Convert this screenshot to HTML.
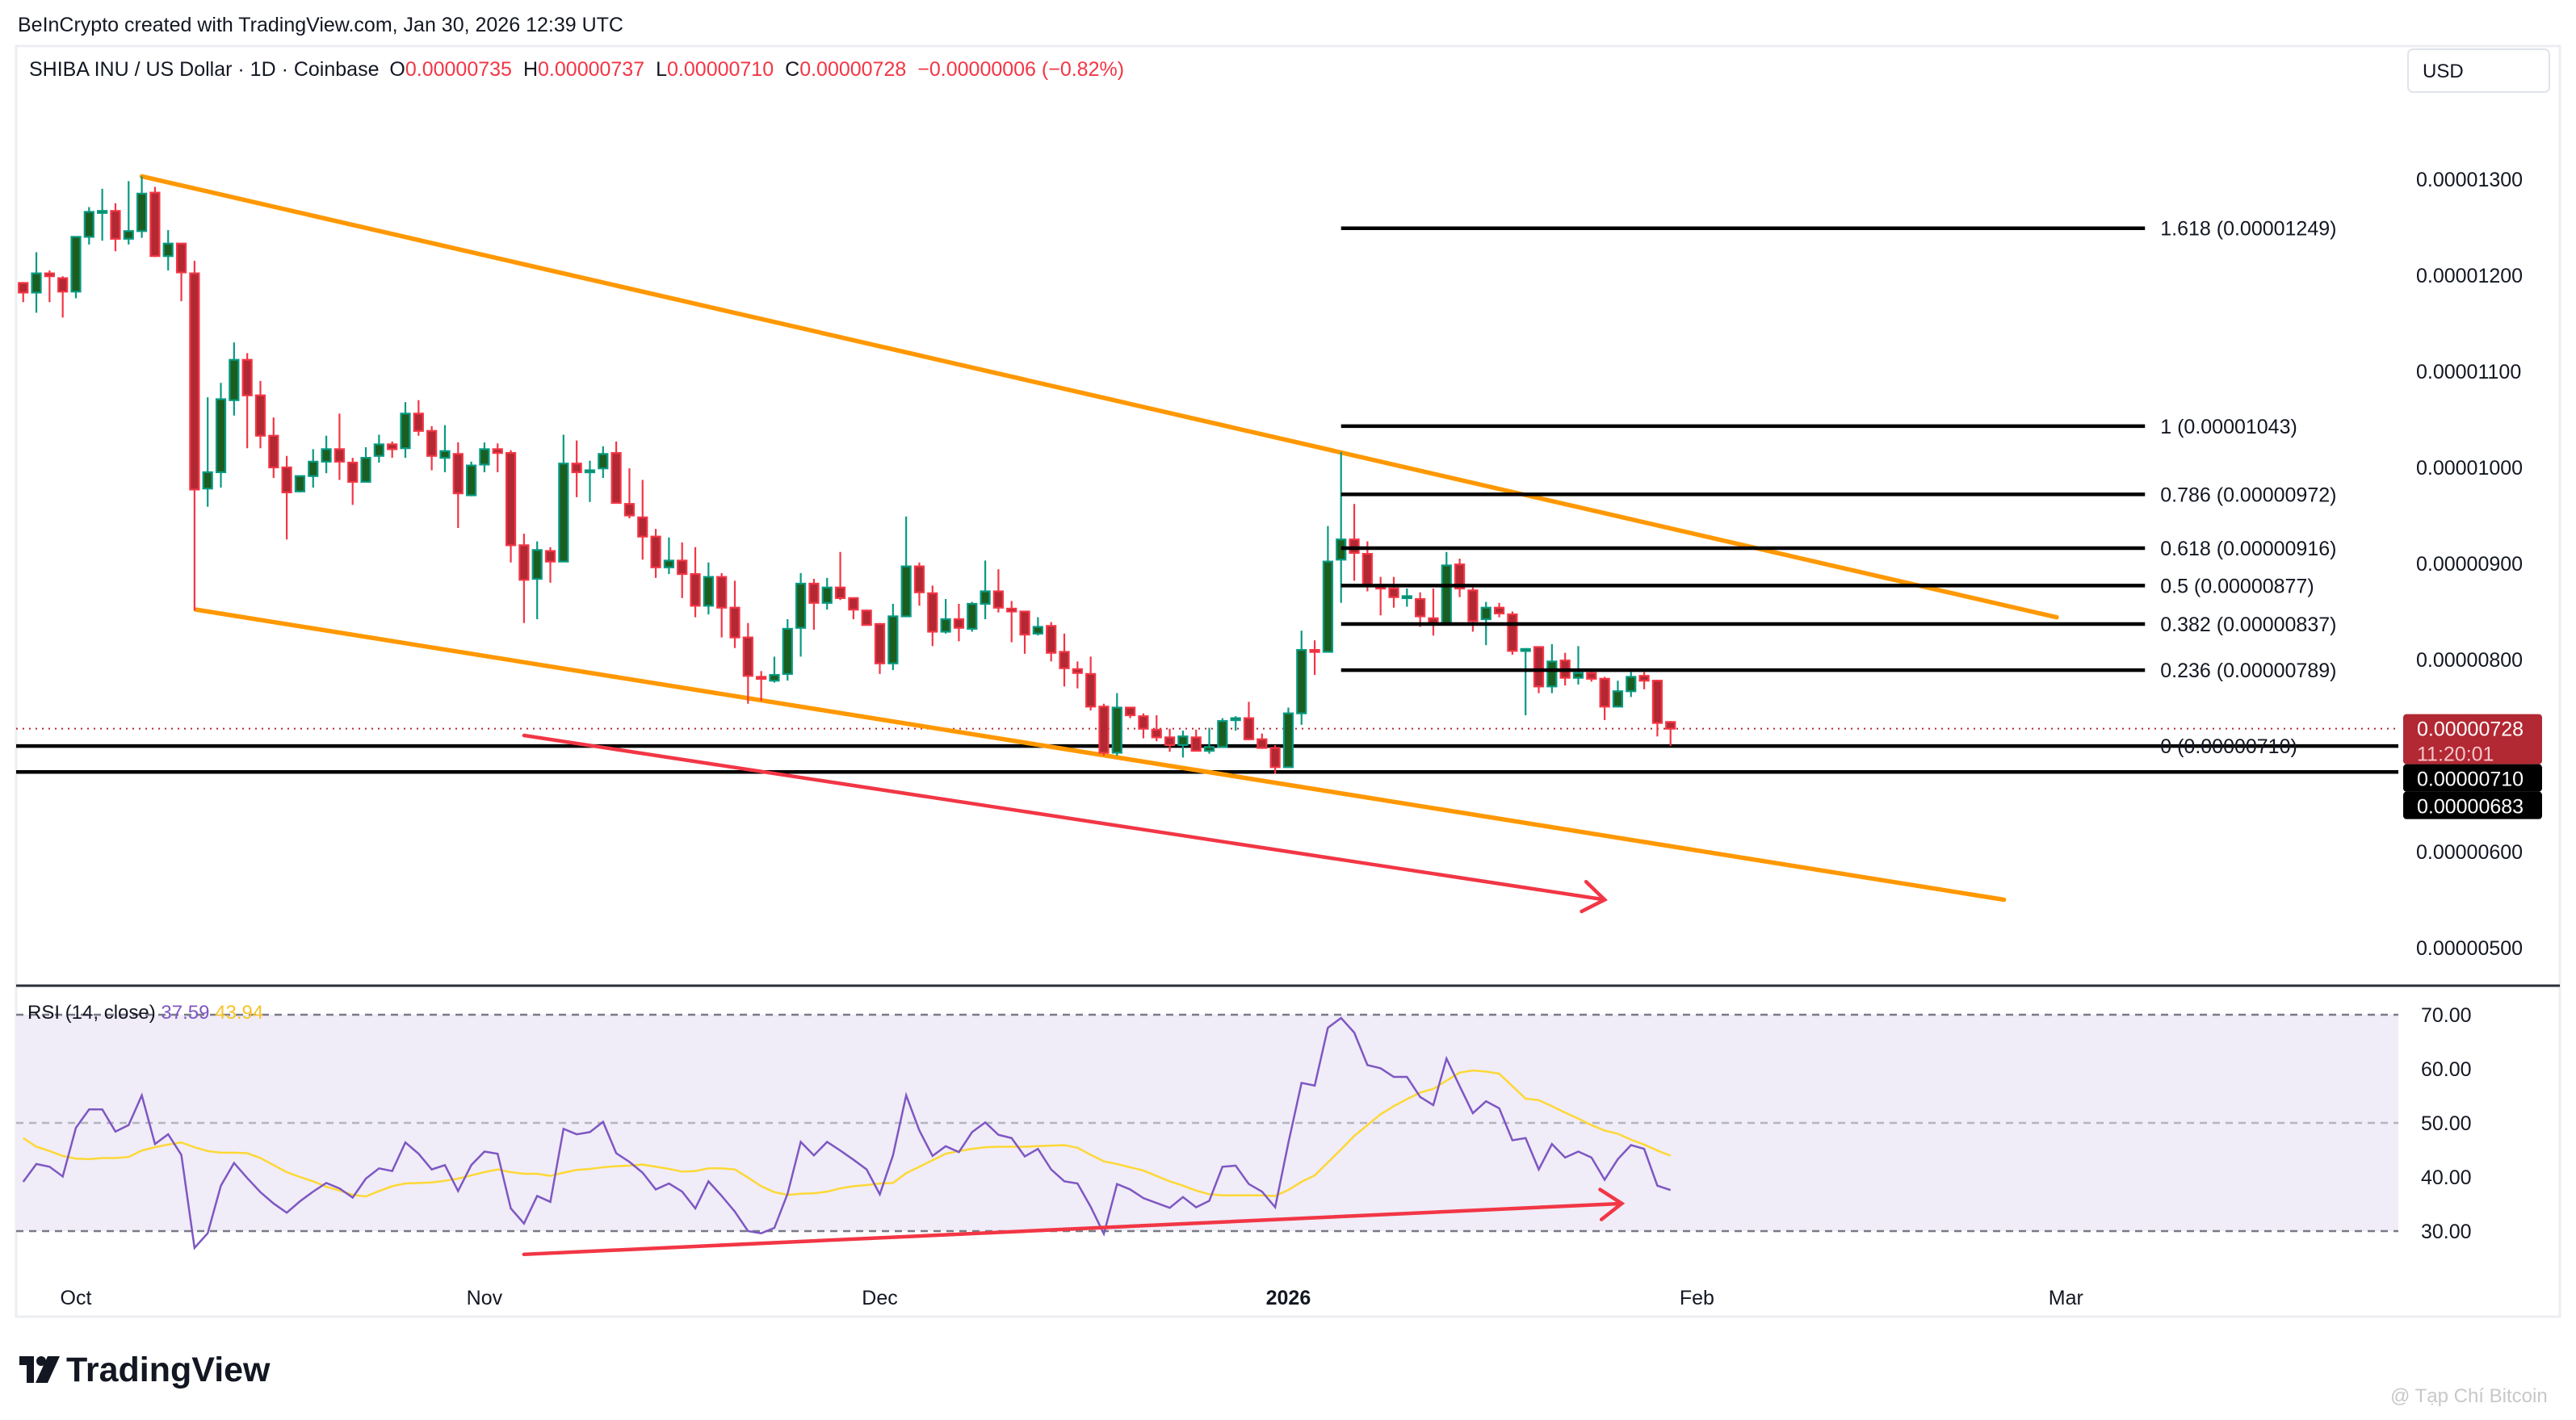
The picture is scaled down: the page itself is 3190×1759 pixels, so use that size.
<!DOCTYPE html>
<html><head><meta charset="utf-8">
<style>
html,body{margin:0;padding:0;background:#fff;}
body{width:3190px;height:1754px;overflow:hidden;position:relative;font-family:"Liberation Sans",Arial,sans-serif;}
svg text{font-family:"Liberation Sans",Arial,sans-serif;}
</style></head>
<body>
<svg id="chart" width="3190" height="1754" viewBox="0 0 3190 1754" xmlns="http://www.w3.org/2000/svg">
<rect x="0" y="0" width="3190" height="1754" fill="#fff"/>
<text x="22" y="39" font-size="25" fill="#131722">BeInCrypto created with TradingView.com, Jan 30, 2026 12:39 UTC</text>
<rect x="20" y="57" width="3150" height="1574" fill="none" stroke="#eceef2" stroke-width="3"/>
<g font-size="25">
<text x="36" y="94" fill="#131722">SHIBA INU / US Dollar · 1D · Coinbase <tspan dx="6">O</tspan><tspan fill="#f23645">0.00000735</tspan><tspan dx="14">H</tspan><tspan fill="#f23645">0.00000737</tspan><tspan dx="14">L</tspan><tspan fill="#f23645">0.00000710</tspan><tspan dx="14">C</tspan><tspan fill="#f23645">0.00000728</tspan><tspan dx="14" fill="#f23645">−0.00000006 (−0.82%)</tspan></text>
</g>
<g>
<rect x="2982" y="61" width="175" height="53" rx="6" fill="#fff" stroke="#e0e3eb" stroke-width="2"/>
<text x="3000" y="96" font-size="24" fill="#131722">USD</text>
</g>
<rect x="20" y="1257" width="2950" height="268" fill="#f0ecf8"/>
<g id="grid"></g>
<g id="drawings"></g>
<g id="candles"></g>
<g id="fib"></g>
<g id="rsi"></g>
<g id="axis"></g>
<line x1="20" y1="1221" x2="3170" y2="1221" stroke="#2a2e39" stroke-width="3"/>
<text x="34" y="1262" font-size="24" fill="#131722">RSI (14, close) <tspan fill="#7e57c2">37.59</tspan> <tspan fill="#f7c325">43.94</tspan></text>
<g>
<rect x="24" y="1680" width="18" height="11" fill="#131722"/>
<rect x="33" y="1680" width="9" height="33" fill="#131722"/>
<circle cx="51" cy="1686" r="6" fill="#131722"/>
<polygon points="59,1680 74,1680 59,1713 44,1713" fill="#131722"/>
<text x="82" y="1711" font-size="43" font-weight="bold" fill="#131722">TradingView</text>
</g>
<text x="2960" y="1737" font-size="24" fill="#c8c8c8">@ Tạp Chí Bitcoin</text>
</svg>
<script>
// ---- data ----
const startDay = -4; // first candle: Sep 27 (day 0 = Oct 1)
const opens  = [1192,1182,1202,1197,1183,1240,1266,1267,1238,1246,1286,1220,1233,1202,978,995,1070,1112,1075,1033,1000,975,991,1006,1019,1005,985,1012,1024,1020,1056,1038,1010,1014,971,1003,1019,1015,919,884,913,902,1004,996,999,1015,962,948,928,896,903,889,856,886,854,823,782,778,785,833,879,859,875,864,851,837,
796,845,897,869,829,842,832,858,871,853,850,827,835,808,790,785,751,703,750,741,727,719,711,719,705,709,737,739,717,708,688,744,810,808,904,925,910,876,874,865,863,843,837,899,872,842,854,847,810,813,772,799,781,786,780,751,767,783,778,735];
const highs  = [1193,1224,1205,1199,1240,1271,1290,1275,1298,1303,1292,1247,1233,1215,1073,1088,1130,1119,1090,1052,1012,991,1019,1033,1056,1010,1021,1034,1027,1068,1070,1043,1044,1026,1006,1026,1025,1018,931,923,917,1034,1028,1007,1022,1027,999,987,936,927,922,917,901,890,882,838,788,803,842,890,884,885,912,864,852,838,
858,949,901,877,863,858,860,903,894,861,850,844,839,827,798,803,754,765,750,744,742,728,726,727,729,739,741,756,723,711,750,830,820,939,1016,962,923,886,886,874,870,874,912,905,875,860,859,850,812,814,816,807,814,789,782,778,787,787,779,736];
const lows   = [1172,1161,1172,1156,1176,1232,1236,1225,1232,1239,1219,1205,1173,851,959,979,1054,1020,1020,989,925,974,979,994,987,961,985,1005,1010,1010,1033,997,995,937,970,995,995,901,838,842,880,902,969,964,989,963,947,904,885,889,864,844,847,823,812,754,757,776,778,803,831,852,862,842,836,785,
789,845,856,814,827,819,829,842,849,818,806,825,798,772,770,747,700,700,739,718,715,704,698,705,702,709,726,716,707,681,688,732,784,808,859,882,871,846,854,855,834,825,837,865,829,815,844,805,742,765,765,773,774,777,737,751,761,769,720,710];
const closes = [1182,1202,1199,1183,1240,1266,1267,1238,1246,1285,1220,1233,1203,977,995,1071,1112,1075,1033,1000,974,991,1006,1019,1006,985,1010,1024,1019,1056,1038,1012,1017,973,1002,1019,1015,919,883,914,902,1004,995,997,1014,963,950,928,896,903,889,856,886,854,823,783,780,784,832,879,859,875,864,852,836,796,
845,897,870,829,842,833,858,871,854,850,826,834,807,791,786,751,703,750,742,728,719,711,720,705,709,736,739,717,708,688,744,810,808,902,925,911,877,874,865,866,845,837,898,874,840,854,848,809,811,772,798,781,786,780,751,767,782,778,734,728];
const rsiValues = [39.1,42.4,41.9,40.1,49.1,52.5,52.5,48.4,49.6,55.1,46.1,47.9,44.1,26.9,29.6,38.4,42.6,39.8,37.2,35.1,33.4,35.5,37.3,38.9,37.9,36.2,39.7,41.6,41.1,46.4,44.3,41.4,42.2,37.4,42.2,44.7,44.3,34.2,31.4,36.5,35.4,48.9,47.9,48.3,50.2,44.4,42.8,40.8,37.7,38.8,37.3,34.2,39.2,36.5,33.6,30.0,29.6,30.6,36.9,46.5,44.0,46.5,44.9,43.2,41.4,36.8,
44.0,55.1,48.6,43.9,45.7,44.6,48.3,50.1,47.8,47.2,43.8,45.2,41.4,39.2,38.8,34.5,29.5,38.7,37.7,36.1,35.2,34.3,36.3,34.4,35.6,41.9,42.1,38.7,37.3,34.4,46.3,57.4,56.9,67.6,69.4,66.7,60.7,60.1,58.5,58.5,54.8,53.3,61.9,56.8,51.8,54.0,52.7,46.8,47.2,41.4,46.1,43.6,44.7,43.6,39.5,43.3,45.9,45.2,38.4,37.59];
const rsiMaValues = [47.2,45.6,44.8,43.9,43.4,43.3,43.5,43.5,43.7,44.9,45.5,46.0,46.4,45.5,44.8,44.5,44.5,44.4,43.5,42.2,40.9,40.0,39.2,38.2,37.5,36.7,36.4,37.4,38.3,38.8,38.9,39.0,39.3,39.7,40.3,40.9,41.4,40.9,40.6,40.6,40.2,40.8,41.3,41.5,41.8,42.0,42.1,42.3,41.9,41.5,41.0,41.1,41.6,41.6,41.4,39.9,38.3,37.2,36.7,36.9,37.0,37.3,37.9,38.3,38.5,38.8,
38.9,40.7,41.9,43.1,44.3,44.8,45.2,45.5,45.6,45.6,45.6,45.7,45.8,45.9,45.4,44.1,42.9,42.4,41.8,41.2,40.2,39.2,38.4,37.5,36.8,36.6,36.6,36.6,36.6,36.5,37.6,39.1,40.3,42.7,45.1,47.6,49.6,51.6,53.1,54.4,55.6,56.3,57.8,59.3,59.7,59.5,59.1,56.8,54.5,54.2,53.1,51.9,50.8,49.6,48.6,48.0,46.9,46.0,44.9,43.94];
const priceTicks = [1300,1200,1100,1000,900,800,600,500];
const priceTickLabels = ["0.00001300","0.00001200","0.00001100","0.00001000","0.00000900","0.00000800","0.00000600","0.00000500"];
const rsiTicks = [70,60,50,40,30];
const rsiTickLabels = ["70.00","60.00","50.00","40.00","30.00"];
const timeTickDays = [0,31,61,92,123,151];
const timeTickLabels = ["Oct","Nov","Dec","2026","Feb","Mar"];
const fibRatios = ["1.618","1","0.786","0.618","0.5","0.382","0.236","0"];
const fibPrices = [1249,1043,972,916,877,837,789,710];
const fibLabels = ["0.00001249","0.00001043","0.00000972","0.00000916","0.00000877","0.00000837","0.00000789","0.00000710"];
const fibStartDay = 96, fibEndDay = 157;
const channelTop = [[5,1303],[150.3,844]];
const channelBottom = [[9.1,852],[146.3,550]];
const priceArrow = [[34,721],[116,550]];
const rsiArrow = [[34,25.7],[117.3,35.1]];
const lastPrice = 728, levelLow = 683;

// ---- axes ----
const X0 = 94, DAYPX = 16.32;
const xDay = d => X0 + d*DAYPX;
const yP = p => 222 + (1300 - p)*1.19;
const yR = v => 1257 + (70 - v)*6.7;
const NS = "http://www.w3.org/2000/svg";
function mk(tag, attrs, parent){const e=document.createElementNS(NS,tag);for(const k in attrs)e.setAttribute(k,attrs[k]);parent.appendChild(e);return e;}
const gAxis=document.getElementById('axis'), gC=document.getElementById('candles'), gF=document.getElementById('fib'), gR=document.getElementById('rsi'), gD=document.getElementById('drawings'), gG=document.getElementById('grid');

priceTicks.forEach((p,i)=>{
  const t=mk('text',{x:2992,y:yP(p)+9,'font-size':25,fill:'#131722'},gAxis);
  
  
  t.textContent=priceTickLabels[i];
});
rsiTicks.forEach((v,i)=>{
  if(v===70||v===50||v===30){
    const l=mk('line',{x1:20,x2:2970,y1:yR(v),y2:yR(v),stroke:v===50?'#b2b5be':'#787b86','stroke-width':2.5,'stroke-dasharray':'9 7'},gG);
    
    
  }
  const t=mk('text',{x:2998,y:yR(v)+9,'font-size':25,fill:'#131722'},gAxis);
  
  
  t.textContent=rsiTickLabels[i];
});
timeTickDays.forEach((d,i)=>{
  const t=mk('text',{x:xDay(d),y:1616,'font-size':25,fill:'#131722','text-anchor':'middle','font-weight':timeTickLabels[i]==='2026'?'bold':'normal'},gAxis);
  
  
  t.textContent=timeTickLabels[i];
});

const lp=mk('line',{x1:20,x2:2970,y1:yP(lastPrice),y2:yP(lastPrice),stroke:'#b22833','stroke-width':2,'stroke-dasharray':'2 6'},gG);


[710,levelLow].forEach(p=>{
  const l=mk('line',{x1:20,x2:2970,y1:yP(p),y2:yP(p),stroke:'#000','stroke-width':4.5},gD);
  
  
});

[channelTop,channelBottom].forEach(seg=>{
  const l=mk('line',{x1:xDay(seg[0][0]),y1:yP(seg[0][1]),x2:xDay(seg[1][0]),y2:yP(seg[1][1]),stroke:'#ff9800','stroke-width':5.5,'stroke-linecap':'round'},gD);
  
  
});
function arrow(x1,y1,x2,y2,name,parent){
  const l=mk('line',{x1,y1,x2,y2,stroke:'#f23645','stroke-width':4.5,'stroke-linecap':'round'},parent);
  
  
  const a=Math.atan2(y2-y1,x2-x1), s=32, w=0.62;
  const p=mk('polyline',{points:`${x2-s*Math.cos(a-w)},${y2-s*Math.sin(a-w)} ${x2},${y2} ${x2-s*Math.cos(a+w)},${y2-s*Math.sin(a+w)}`,fill:'none',stroke:'#f23645','stroke-width':4.5,'stroke-linecap':'round'},parent);
  
  
}
arrow(xDay(priceArrow[0][0]),yP(priceArrow[0][1]),xDay(priceArrow[1][0]),yP(priceArrow[1][1]),'price-trend-arrow',gD);

opens.forEach((o,k)=>{
  const c=closes[k], h=highs[k], l=lows[k], x=xDay(startDay+k);
  const up=c>=o, stroke=up?'#089981':'#f23645', fill=up?'#1b5e20':'#b22833';
  const g=mk('g',{},gC);
  
  
  mk('line',{x1:x,x2:x,y1:yP(h),y2:yP(l),stroke:stroke,'stroke-width':2.2},g);
  const top=yP(Math.max(o,c)), bot=yP(Math.min(o,c));
  mk('rect',{x:x-5.5,y:top,width:11,height:Math.max(bot-top,2.5),fill:fill,stroke:stroke,'stroke-width':2.2},g);
});

fibPrices.forEach((p,i)=>{
  if(fibRatios[i]!=='0'){
    const l=mk('line',{x1:xDay(fibStartDay),x2:xDay(fibEndDay),y1:yP(p),y2:yP(p),stroke:'#000','stroke-width':4.5},gF);
    
    
  }
  const t=mk('text',{x:xDay(fibEndDay)+19,y:yP(p)+9,'font-size':25,fill:'#131722'},gF);
  
  
  t.textContent=fibRatios[i]+' ('+fibLabels[i]+')';
});

const rsiPts=rsiValues.map((v,k)=>xDay(startDay+k)+','+yR(v)).join(' ');
const maPts=rsiMaValues.map((v,k)=>xDay(startDay+k)+','+yR(v)).join(' ');
const ma=mk('polyline',{points:maPts,fill:'none',stroke:'#fdd835','stroke-width':2.5},gR);


const rl=mk('polyline',{points:rsiPts,fill:'none',stroke:'#7e57c2','stroke-width':2.5},gR);


arrow(xDay(rsiArrow[0][0]),yR(rsiArrow[0][1]),xDay(rsiArrow[1][0]),yR(rsiArrow[1][1]),'rsi-trend-arrow',gR);

function badge(y,h,fill,lines,name){
  const g=mk('g',{},gAxis);
  
  
  mk('rect',{x:2976,y:y,width:172,height:h,rx:4,fill:fill},g);
  lines.forEach((ln,i)=>{const t=mk('text',{x:2993,y:y+27+i*31,'font-size':25,fill:ln[1]},g);t.textContent=ln[0];});
}
badge(yP(lastPrice)-18,62,'#b22833',[["0.00000728","#fff"],["11:20:01","#f5c6cb"]],'last-price-badge');
badge(yP(lastPrice)+44,34,'#000',[["0.00000710","#fff"]],'support-710-badge');
badge(yP(lastPrice)+78,34,'#000',[["0.00000683","#fff"]],'support-683-badge');
</script>
</body></html>
